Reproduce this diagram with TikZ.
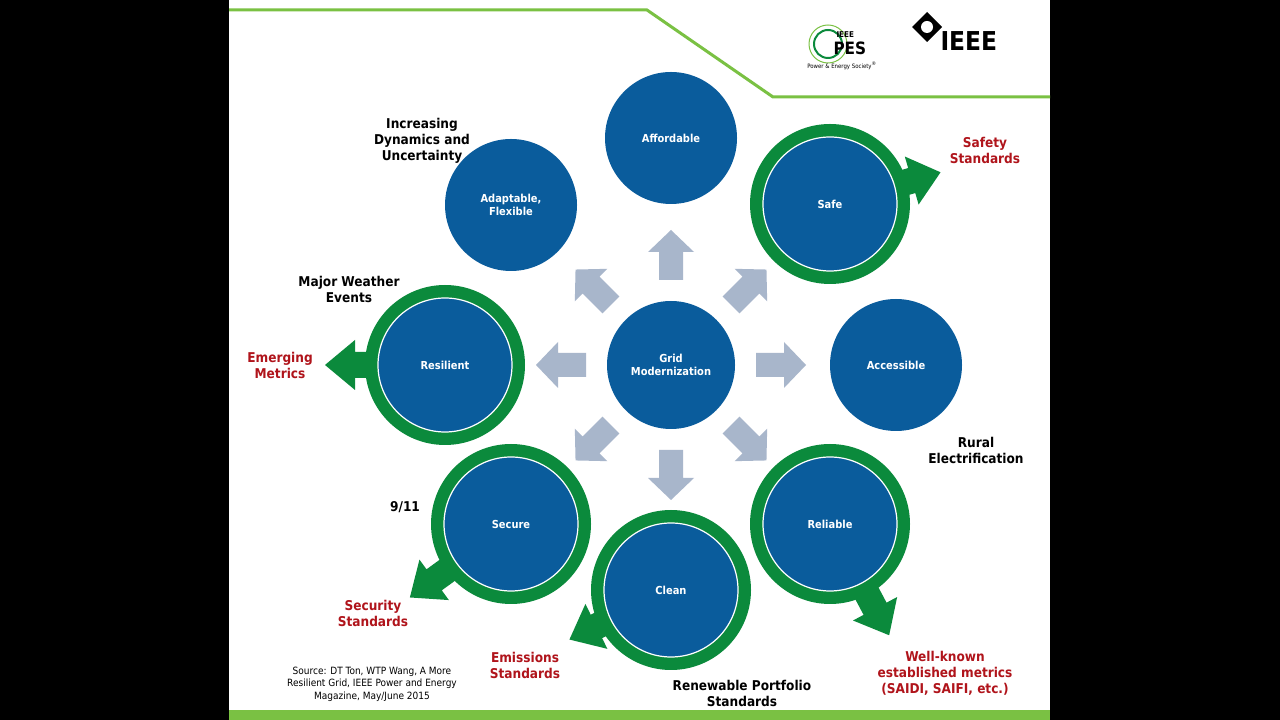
\documentclass[tikz,border=0pt]{standalone}
\usepackage{fontspec}
\setmainfont{DejaVu Sans Condensed}
\usetikzlibrary{calc}
\definecolor{gridblue}{HTML}{0A5C9C}
\definecolor{ringgreen}{HTML}{0B8A3C}
\definecolor{arrowgray}{HTML}{A8B6CB}
\definecolor{labelred}{HTML}{B0141B}
\definecolor{linegreen}{HTML}{7AC143}
\tikzset{
  hub/.style={circle,fill=gridblue,minimum size=132pt,inner sep=0pt,text=white,font=\fontsize{11}{13}\selectfont\bfseries,align=center},
  ring/.style={circle,fill=ringgreen,minimum size=160pt,inner sep=0pt},
  inring/.style={circle,fill=gridblue,draw=white,line width=1.2pt,minimum size=134pt,inner sep=0pt,text=white,font=\fontsize{11}{13}\selectfont\bfseries,align=center},
  note/.style={font=\fontsize{13.5}{16}\selectfont\bfseries,align=center},
  rednote/.style={note,text=labelred}
}
% green arrow leaving a ring: #1 centre, #2 angle, #3 length
\newcommand{\outarrow}[3]{%
  \fill[ringgreen,shift={(#1)},rotate=#2] (60,-13) -- (#3-30,-13) -- (#3-30,-25) -- (#3,0) -- (#3-30,25) -- (#3-30,13) -- (60,13) -- cycle;}
% grey arrow from the hub
\newcommand{\hubarrow}[1]{%
  \fill[arrowgray,shift={(hub)},rotate=#1] (85,-12) -- (113,-12) -- (113,-23) -- (135,0) -- (113,23) -- (113,12) -- (85,12) -- cycle;}
\begin{document}
\begin{tikzpicture}[x=1pt,y=1pt]
	\fill[black] (0,0) rectangle (1280,720);
	\fill[white] (229,0) rectangle (1050,720);
	\useasboundingbox (0,0) rectangle (1280,720);
	\fill[linegreen] (229,0) rectangle (1050,10);
	\draw[linegreen,line width=3pt] (229,710) -- (647,710) -- (773,623) -- (1050,623);
	
	% logos
	\draw[ringgreen,line width=2pt] (828,676) circle (14);
	\draw[linegreen,line width=1pt] (828,676) circle (19);
	\node[font=\fontsize{8}{8}\selectfont\bfseries,anchor=west] (ieeesmall) at (833,685) {IEEE};
	\node[font=\fontsize{17}{17}\selectfont\bfseries,anchor=west] (pes) at (830,672) {PES};
	\node[font=\fontsize{6}{6}\selectfont] (society) at (842,654) {Power \& Energy Society\textsuperscript{®}};
	\fill[black] (927,678) -- (942,693) -- (927,708) -- (912,693) -- cycle;
	\fill[white] (927,693) circle (6);
	\node[font=\fontsize{26}{26}\selectfont\bfseries,anchor=west] (ieee) at (937,679) {IEEE};
	
	% hub and grey arrows
	\node[hub,minimum size=128pt] (hub) at (671,355) {Grid\\Modernization};
	\foreach \a in {0,45,...,315} {\hubarrow{\a}}
	
	% green arrows under the rings
	\outarrow{830,516}{16}{115}
	\outarrow{445,355}{180}{120}
	\outarrow{511,196}{216}{125}
	\outarrow{671,130}{206}{113}
	\outarrow{830,196}{-62}{126}
	
	% plain circles
	\node[hub] (afford) at (671,582) {Affordable};
	\node[hub] (adapt) at (511,515) {Adaptable,\\Flexible};
	\node[hub] (access) at (896,355) {Accessible};
	
	% ringed circles
	\foreach \n/\x/\y/\t in {safe/830/516/Safe, resil/445/355/Resilient, secure/511/196/Secure, clean/671/130/Clean, reliab/830/196/Reliable} {
		\node[ring] (\n-ring) at (\x,\y) {};
		\node[inring] (\n) at (\x,\y) {\t};
	}
	
	% labels
	\node[note] (dyn) at (422,579) {Increasing\\Dynamics and\\Uncertainty};
	\node[rednote] (safety) at (985,570) {Safety\\Standards};
	\node[note] (weather) at (349,431) {Major Weather\\Events};
	\node[rednote] (emerg) at (280,355) {Emerging\\Metrics};
	\node[note] (rural) at (976,270) {Rural\\Electrification};
	\node[note] (nine) at (405,213) {9/11};
	\node[rednote] (secstd) at (373,107) {Security\\Standards};
	\node[rednote] (emis) at (525,55) {Emissions\\Standards};
	\node[note] (renew) at (742,27) {Renewable Portfolio\\Standards};
	\node[rednote] (known) at (945,47) {Well-known\\established metrics\\(SAIDI, SAIFI, etc.)};
	\node[font=\fontsize{10}{12.5}\selectfont,align=center] (source) at (372,36) {Source: DT Ton, WTP Wang, A More\\Resilient Grid, IEEE Power and Energy\\Magazine, May/June 2015};
\end{tikzpicture}
\end{document}
